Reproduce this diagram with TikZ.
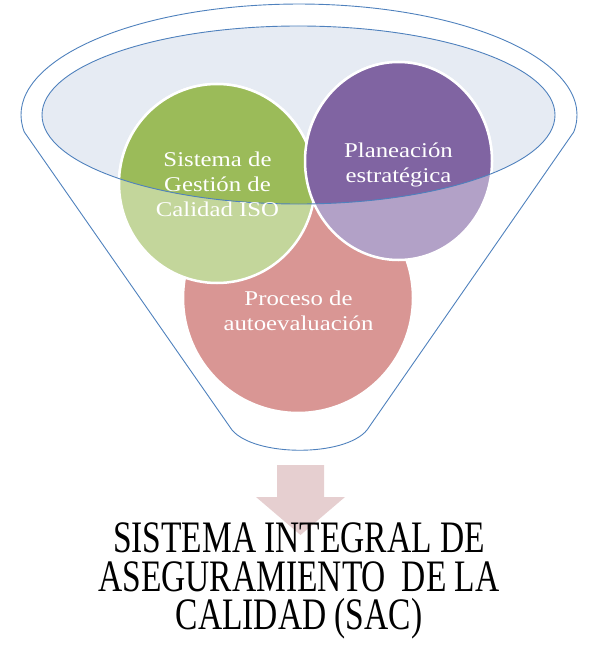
\documentclass[tikz,border=0pt]{standalone}
\usepackage{fontspec}
\setmainfont{Liberation Serif}
\newfontfamily\bubblefont[FakeStretch=1.18]{Liberation Serif}
\newfontfamily\sacfont[FakeStretch=0.744]{Liberation Serif}
\usetikzlibrary{shapes.geometric, positioning}
\definecolor{funnelblue}{RGB}{79,129,189}
\definecolor{mouthgrey}{RGB}{230,235,243}
\definecolor{isogreen}{RGB}{155,187,89}
\definecolor{isolight}{RGB}{195,214,155}
\definecolor{planviolet}{RGB}{128,100,162}
\definecolor{planlight}{RGB}{178,161,199}
\definecolor{autored}{RGB}{217,150,148}
\definecolor{arrowpink}{RGB}{230,207,208}
\def\mouth{(298.5,115) ellipse [x radius=256.5, y radius=89]}
\tikzstyle{funnel}=[draw=funnelblue, line width=0.9pt]
\tikzstyle{bubble}=[ellipse, draw=white, line width=2.5pt, inner sep=0pt]
\tikzstyle{bubbletext}=[text=white, align=center, inner sep=0pt,
                       font=\bubblefont\fontsize{21}{25}\selectfont]
\tikzstyle{sac}=[align=center, inner sep=0pt, font=\sacfont\fontsize{45}{38.5}\selectfont]

\begin{document}
\begin{tikzpicture}[x=1pt, y=-1pt]
  \useasboundingbox (0,0) rectangle (596,655);

  % funnel body
  \draw[funnel] (24.3,132) arc[start angle=171.2, end angle=368.8, x radius=278, y radius=111]
     -- (367,430) .. controls (345,457) and (255,457) .. (232,430) -- cycle;
  \fill[mouthgrey] \mouth;

  \node[bubble, fill=autored, minimum width=230, minimum height=230] (auto) at (298,298) {};
  \node[bubble, fill=isolight, minimum width=196, minimum height=199] (iso) at (217,183.5) {};
  \node[bubble, fill=planlight, minimum width=187, minimum height=198] (plan) at (398.5,161) {};

  \begin{scope}
    \clip \mouth;
    \node[bubble, fill=isogreen, minimum width=196, minimum height=199] at (iso) {};
    \node[bubble, fill=planviolet, minimum width=187, minimum height=198] at (plan) {};
  \end{scope}
  \draw[funnel] \mouth;

  \node[bubbletext] (isotext) at (217.5,183.9) {Sistema de\\Gestión de\\Calidad ISO};
  \node[bubbletext] (plantext) at (398.5,164.6) {Planeación\\estratégica};
  \node[bubbletext] (autotext) at (298.5,310.9) {Proceso de\\autoevaluación};

  % arrow
  \fill[arrowpink] (277,465) -- (324,465) -- (324,497) -- (345,497) -- (300.5,535)
     -- (256,497) -- (277,497) -- cycle;

  \node[sac] (result) at (299,581) {SISTEMA INTEGRAL DE\\ASEGURAMIENTO\, DE LA\\CALIDAD (SAC)};
\end{tikzpicture}
\end{document}
